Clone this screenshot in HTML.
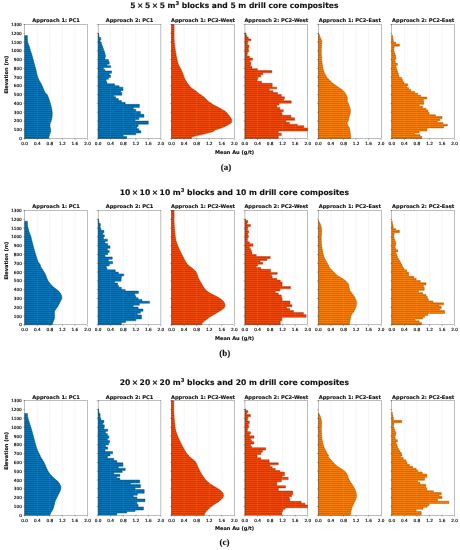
<!DOCTYPE html>
<html><head><meta charset="utf-8"><title>Figure</title>
<style>html,body{margin:0;padding:0;background:#fff}svg{display:block}text{font-family:"DejaVu Sans","Liberation Sans",sans-serif;fill:#111;text-rendering:geometricPrecision;stroke:#111;stroke-width:0.12px}.b{font-weight:bold}.t{font-size:4.2px;stroke-width:0.17px}.pt{font-size:5.12px;font-weight:bold;text-anchor:middle}.st{font-size:7.45px;font-weight:bold;text-anchor:middle}.cap{font-family:"Liberation Serif","DejaVu Serif",serif;font-weight:bold;font-size:9px;text-anchor:middle}</style></head><body>
<svg width="460" height="550" viewBox="0 0 460 550">
<rect width="460" height="550" fill="#fff"/>
<defs><pattern id="p0" width="4" height="2" patternUnits="userSpaceOnUse"><rect width="4" height="2" fill="#0674b5"/><rect y="1" width="4" height="1" fill="#075e9a"/></pattern><pattern id="p1" width="4" height="2" patternUnits="userSpaceOnUse"><rect width="4" height="2" fill="#ed490b"/><rect y="1" width="4" height="1" fill="#cd3906"/></pattern><pattern id="p2" width="4" height="2" patternUnits="userSpaceOnUse"><rect width="4" height="2" fill="#f47e09"/><rect y="1" width="4" height="1" fill="#d46905"/></pattern></defs>
<text class="st" style="text-anchor:start;font-size:7.6px" x="130.21" y="7.85">5<tspan dx="1.52">×</tspan><tspan dx="1.52">5</tspan><tspan dx="1.52">×</tspan><tspan dx="1.52">5</tspan> m<tspan font-size="5.32px" dy="-2.89">3</tspan><tspan dy="2.89"> blocks and 5 m drill core composites</tspan></text>
<line x1="37.26" y1="24.6" x2="37.26" y2="138.5" stroke="#e2e2e2" stroke-width="0.36"/><line x1="49.82" y1="24.6" x2="49.82" y2="138.5" stroke="#e2e2e2" stroke-width="0.36"/><line x1="62.38" y1="24.6" x2="62.38" y2="138.5" stroke="#e2e2e2" stroke-width="0.36"/><line x1="74.94" y1="24.6" x2="74.94" y2="138.5" stroke="#e2e2e2" stroke-width="0.36"/><path d="M24.7 35.6 L27.39 35.6 L27.39 39.78 L27.85 42.83 L29.37 46.63 L30.44 50.44 L31.96 55 L33.17 59.57 L34.39 64.13 L35.76 68.7 L36.67 73.26 L37.74 77.07 L38.96 79.81 L38.96 80 L40.78 83.04 L42.31 86.09 L43.52 89.13 L45.35 92.94 L47.18 94.46 L48.7 98.26 L50.22 102.83 L51.44 107.39 L52.2 111.96 L52.2 116.52 L51.44 120.33 L50.22 123.37 L49.91 126.42 L50.68 128.7 L50.68 131.74 L49.61 134.79 L48.85 137.07 L48.85 138.44 L48.85 138.5 L24.7 138.5Z" fill="url(#p0)" stroke="#054574" stroke-width="0.45" stroke-linejoin="round"/><line x1="37.26" y1="24.6" x2="37.26" y2="138.5" stroke="#ffffff" stroke-opacity="0.18" stroke-width="0.4"/><line x1="49.82" y1="24.6" x2="49.82" y2="138.5" stroke="#ffffff" stroke-opacity="0.18" stroke-width="0.4"/><line x1="62.38" y1="24.6" x2="62.38" y2="138.5" stroke="#ffffff" stroke-opacity="0.18" stroke-width="0.4"/><line x1="74.94" y1="24.6" x2="74.94" y2="138.5" stroke="#ffffff" stroke-opacity="0.18" stroke-width="0.4"/><rect x="24.7" y="24.6" width="62.8" height="113.9" fill="none" stroke="#2a2a2a" stroke-width="0.31"/><path d="M24.7 138.5h-1.4M24.7 129.74h-1.4M24.7 120.98h-1.4M24.7 112.22h-1.4M24.7 103.45h-1.4M24.7 94.69h-1.4M24.7 85.93h-1.4M24.7 77.17h-1.4M24.7 68.41h-1.4M24.7 59.65h-1.4M24.7 50.88h-1.4M24.7 42.12h-1.4M24.7 33.36h-1.4M24.7 24.6h-1.4M24.7 138.5v1.4M37.26 138.5v1.4M49.82 138.5v1.4M62.38 138.5v1.4M74.94 138.5v1.4M87.5 138.5v1.4" stroke="#222" stroke-width="0.34" fill="none"/>
<text class="pt" x="56.1" y="22.3">Approach 1: PC1</text><text class="t" text-anchor="middle" x="24.7" y="145">0.0</text><text class="t" text-anchor="middle" x="37.26" y="145">0.4</text><text class="t" text-anchor="middle" x="49.82" y="145">0.8</text><text class="t" text-anchor="middle" x="62.38" y="145">1.2</text><text class="t" text-anchor="middle" x="74.94" y="145">1.6</text><text class="t" text-anchor="middle" x="87.5" y="145">2.0</text><text class="t" text-anchor="end" x="21.8" y="140">0</text><text class="t" text-anchor="end" x="21.8" y="131.24">100</text><text class="t" text-anchor="end" x="21.8" y="122.48">200</text><text class="t" text-anchor="end" x="21.8" y="113.72">300</text><text class="t" text-anchor="end" x="21.8" y="104.95">400</text><text class="t" text-anchor="end" x="21.8" y="96.19">500</text><text class="t" text-anchor="end" x="21.8" y="87.43">600</text><text class="t" text-anchor="end" x="21.8" y="78.67">700</text><text class="t" text-anchor="end" x="21.8" y="69.91">800</text><text class="t" text-anchor="end" x="21.8" y="61.15">900</text><text class="t" text-anchor="end" x="21.8" y="52.38">1000</text><text class="t" text-anchor="end" x="21.8" y="43.62">1100</text><text class="t" text-anchor="end" x="21.8" y="34.86">1200</text><text class="t" text-anchor="end" x="21.8" y="26.1">1300</text><text class="b" font-size="5.05px" text-anchor="middle" transform="translate(7.6 74.8) rotate(-90)">Elevation (m)</text>
<line x1="110.68" y1="24.6" x2="110.68" y2="138.5" stroke="#e2e2e2" stroke-width="0.36"/><line x1="123.24" y1="24.6" x2="123.24" y2="138.5" stroke="#e2e2e2" stroke-width="0.36"/><line x1="135.8" y1="24.6" x2="135.8" y2="138.5" stroke="#e2e2e2" stroke-width="0.36"/><line x1="148.36" y1="24.6" x2="148.36" y2="138.5" stroke="#e2e2e2" stroke-width="0.36"/><path d="M98.12 33.24 L98.57 33.24 L98.57 35.22 L99.02 35.22 L99.02 37.5 L100.85 37.5 L100.85 39.78 L100.09 39.78 L100.09 42.07 L101.3 42.07 L101.3 44.35 L101.91 44.35 L101.91 46.18 L102.83 46.18 L102.83 48.46 L103.44 48.46 L103.44 50.74 L104.35 50.74 L104.35 52.72 L104.96 52.72 L104.96 55 L105.41 55 L105.41 57.29 L104.96 57.29 L104.96 59.57 L108.46 59.57 L108.46 61.85 L109.22 61.85 L109.22 64.13 L106.94 64.13 L106.94 65.66 L110.74 65.66 L110.74 67.48 L103.44 67.48 L103.44 69.46 L104.96 69.46 L104.96 70.98 L111.5 70.98 L111.5 73.26 L109.22 73.26 L109.22 75.09 L110.44 75.09 L110.44 77.53 L108.46 77.53 L108.46 79.35 L106.17 79.35 L106.17 79.96 L106.17 80 L106.17 81.83 L106.94 81.83 L106.94 83.8 L114.54 83.8 L114.54 85.63 L119.11 85.63 L119.11 87.15 L122.91 87.15 L122.91 90.65 L120.63 90.65 L120.63 92.48 L121.85 92.48 L121.85 95.22 L113.78 95.22 L113.78 96.74 L115.76 96.74 L115.76 98.57 L118.35 98.57 L118.35 100.54 L121.39 100.54 L121.39 102.37 L125.2 102.37 L125.2 104.35 L139.35 104.35 L139.35 107.39 L133.26 107.39 L133.26 109.22 L135.85 109.22 L135.85 111.5 L140.42 111.5 L140.42 114.24 L143.92 114.24 L143.92 117.29 L138.89 117.29 L138.89 119.57 L135.09 119.57 L135.09 121.09 L148.33 121.09 L148.33 124.13 L138.13 124.13 L138.13 126.42 L136.92 126.42 L136.92 128.7 L138.89 128.7 L138.89 130.68 L140.87 130.68 L140.87 132.96 L135.85 132.96 L135.85 134.79 L123.22 134.79 L123.22 136.61 L126.72 136.61 L126.72 138.44 L98.12 138.44Z" fill="url(#p0)" stroke="#054574" stroke-width="0.45" stroke-linejoin="round"/><line x1="110.68" y1="24.6" x2="110.68" y2="138.5" stroke="#ffffff" stroke-opacity="0.18" stroke-width="0.4"/><line x1="123.24" y1="24.6" x2="123.24" y2="138.5" stroke="#ffffff" stroke-opacity="0.18" stroke-width="0.4"/><line x1="135.8" y1="24.6" x2="135.8" y2="138.5" stroke="#ffffff" stroke-opacity="0.18" stroke-width="0.4"/><line x1="148.36" y1="24.6" x2="148.36" y2="138.5" stroke="#ffffff" stroke-opacity="0.18" stroke-width="0.4"/><rect x="98.12" y="24.6" width="62.8" height="113.9" fill="none" stroke="#2a2a2a" stroke-width="0.31"/><path d="M98.12 138.5h-1.4M98.12 129.74h-1.4M98.12 120.98h-1.4M98.12 112.22h-1.4M98.12 103.45h-1.4M98.12 94.69h-1.4M98.12 85.93h-1.4M98.12 77.17h-1.4M98.12 68.41h-1.4M98.12 59.65h-1.4M98.12 50.88h-1.4M98.12 42.12h-1.4M98.12 33.36h-1.4M98.12 24.6h-1.4M98.12 138.5v1.4M110.68 138.5v1.4M123.24 138.5v1.4M135.8 138.5v1.4M148.36 138.5v1.4M160.92 138.5v1.4" stroke="#222" stroke-width="0.34" fill="none"/>
<text class="pt" x="129.52" y="22.3">Approach 2: PC1</text><text class="t" text-anchor="middle" x="98.12" y="145">0.0</text><text class="t" text-anchor="middle" x="110.68" y="145">0.4</text><text class="t" text-anchor="middle" x="123.24" y="145">0.8</text><text class="t" text-anchor="middle" x="135.8" y="145">1.2</text><text class="t" text-anchor="middle" x="148.36" y="145">1.6</text><text class="t" text-anchor="middle" x="160.92" y="145">2.0</text>
<line x1="184.1" y1="24.6" x2="184.1" y2="138.5" stroke="#e2e2e2" stroke-width="0.36"/><line x1="196.66" y1="24.6" x2="196.66" y2="138.5" stroke="#e2e2e2" stroke-width="0.36"/><line x1="209.22" y1="24.6" x2="209.22" y2="138.5" stroke="#e2e2e2" stroke-width="0.36"/><line x1="221.78" y1="24.6" x2="221.78" y2="138.5" stroke="#e2e2e2" stroke-width="0.36"/><path d="M171.54 24.6 L174.09 24.6 L174.09 38.26 L174.39 42.83 L174.85 47.39 L175.61 51.96 L176.37 56.52 L177.13 59.87 L177.13 60 L178.35 64.57 L180.94 69.13 L182.91 73.7 L184.44 78.26 L187.02 82.83 L190.83 87.39 L194.18 89.98 L194.61 90 L198.52 93.13 L204 97.04 L207.91 100.96 L213.39 104.87 L219.65 108 L225.13 111.13 L227.48 113.48 L229.83 116.61 L231.86 119.74 L231.39 122.87 L227.48 125.22 L222.78 127.56 L214.96 129.91 L213.39 131.48 L207.91 133.04 L201.65 134.61 L196.17 135.86 L191.48 136.96 L191.48 138.5 L191.48 138.5 L171.54 138.5Z" fill="url(#p1)" stroke="#a52a04" stroke-width="0.45" stroke-linejoin="round"/><line x1="184.1" y1="24.6" x2="184.1" y2="138.5" stroke="#ffffff" stroke-opacity="0.18" stroke-width="0.4"/><line x1="196.66" y1="24.6" x2="196.66" y2="138.5" stroke="#ffffff" stroke-opacity="0.18" stroke-width="0.4"/><line x1="209.22" y1="24.6" x2="209.22" y2="138.5" stroke="#ffffff" stroke-opacity="0.18" stroke-width="0.4"/><line x1="221.78" y1="24.6" x2="221.78" y2="138.5" stroke="#ffffff" stroke-opacity="0.18" stroke-width="0.4"/><rect x="171.54" y="24.6" width="62.8" height="113.9" fill="none" stroke="#2a2a2a" stroke-width="0.31"/><path d="M171.54 138.5h-1.4M171.54 129.74h-1.4M171.54 120.98h-1.4M171.54 112.22h-1.4M171.54 103.45h-1.4M171.54 94.69h-1.4M171.54 85.93h-1.4M171.54 77.17h-1.4M171.54 68.41h-1.4M171.54 59.65h-1.4M171.54 50.88h-1.4M171.54 42.12h-1.4M171.54 33.36h-1.4M171.54 24.6h-1.4M171.54 138.5v1.4M184.1 138.5v1.4M196.66 138.5v1.4M209.22 138.5v1.4M221.78 138.5v1.4M234.34 138.5v1.4" stroke="#222" stroke-width="0.34" fill="none"/>
<text class="pt" x="202.94" y="22.3">Approach 1: PC2-West</text><text class="t" text-anchor="middle" x="171.54" y="145">0.0</text><text class="t" text-anchor="middle" x="184.1" y="145">0.4</text><text class="t" text-anchor="middle" x="196.66" y="145">0.8</text><text class="t" text-anchor="middle" x="209.22" y="145">1.2</text><text class="t" text-anchor="middle" x="221.78" y="145">1.6</text><text class="t" text-anchor="middle" x="234.34" y="145">2.0</text>
<line x1="257.52" y1="24.6" x2="257.52" y2="138.5" stroke="#e2e2e2" stroke-width="0.36"/><line x1="270.08" y1="24.6" x2="270.08" y2="138.5" stroke="#e2e2e2" stroke-width="0.36"/><line x1="282.64" y1="24.6" x2="282.64" y2="138.5" stroke="#e2e2e2" stroke-width="0.36"/><line x1="295.2" y1="24.6" x2="295.2" y2="138.5" stroke="#e2e2e2" stroke-width="0.36"/><path d="M244.96 32.94 L246.02 32.94 L246.02 35.22 L246.78 35.22 L246.78 37.04 L248.3 37.04 L248.3 39.02 L250.89 39.02 L250.89 40.85 L247.85 40.85 L247.85 42.83 L247.39 42.83 L247.39 45.11 L248.91 45.11 L248.91 47.39 L248.3 47.39 L248.3 49.68 L248.61 49.68 L248.61 51.96 L247.39 51.96 L247.39 54.24 L247.09 54.24 L247.09 56.07 L249.37 56.07 L249.37 58.05 L252.41 58.05 L252.41 60.33 L249.83 60.33 L249.83 62.15 L250.89 62.15 L250.89 64.13 L250.44 64.13 L250.44 66.42 L251.96 66.42 L251.96 68.7 L257.44 68.7 L257.44 70.53 L271.89 70.53 L271.89 72.81 L262.76 72.81 L262.76 74.79 L260.48 74.79 L260.48 77.07 L257.74 77.07 L257.74 79.35 L256.98 79.35 L256.98 79.96 L256.98 80 L256.98 81.22 L261.54 81.22 L261.54 83.35 L272.2 83.35 L272.2 87.15 L276.76 87.15 L276.76 88.83 L269.15 88.83 L269.15 90.65 L272.96 90.65 L272.96 92.48 L277.52 92.48 L277.52 94.46 L281.33 94.46 L281.33 96.74 L284.37 96.74 L284.37 99.02 L283.61 99.02 L283.61 100.85 L291.22 100.85 L291.22 103.13 L279.05 103.13 L279.05 105.11 L276.76 105.11 L276.76 107.39 L279.81 107.39 L279.81 109.68 L283.31 109.68 L283.31 111.65 L281.33 111.65 L281.33 113.48 L282.09 113.48 L282.09 115.31 L290.92 115.31 L290.92 117.74 L294.57 117.74 L294.57 120.33 L285.89 120.33 L285.89 122.15 L289.39 122.15 L289.39 124.13 L297.31 124.13 L297.31 125.66 L303.7 125.66 L303.7 127.94 L307.35 127.94 L307.35 130.98 L278.29 130.98 L278.29 133.26 L281.33 133.26 L281.33 135.55 L278.29 135.55 L278.29 138.44 L244.96 138.44Z" fill="url(#p1)" stroke="#a52a04" stroke-width="0.45" stroke-linejoin="round"/><line x1="257.52" y1="24.6" x2="257.52" y2="138.5" stroke="#ffffff" stroke-opacity="0.18" stroke-width="0.4"/><line x1="270.08" y1="24.6" x2="270.08" y2="138.5" stroke="#ffffff" stroke-opacity="0.18" stroke-width="0.4"/><line x1="282.64" y1="24.6" x2="282.64" y2="138.5" stroke="#ffffff" stroke-opacity="0.18" stroke-width="0.4"/><line x1="295.2" y1="24.6" x2="295.2" y2="138.5" stroke="#ffffff" stroke-opacity="0.18" stroke-width="0.4"/><rect x="244.96" y="24.6" width="62.8" height="113.9" fill="none" stroke="#2a2a2a" stroke-width="0.31"/><path d="M244.96 138.5h-1.4M244.96 129.74h-1.4M244.96 120.98h-1.4M244.96 112.22h-1.4M244.96 103.45h-1.4M244.96 94.69h-1.4M244.96 85.93h-1.4M244.96 77.17h-1.4M244.96 68.41h-1.4M244.96 59.65h-1.4M244.96 50.88h-1.4M244.96 42.12h-1.4M244.96 33.36h-1.4M244.96 24.6h-1.4M244.96 138.5v1.4M257.52 138.5v1.4M270.08 138.5v1.4M282.64 138.5v1.4M295.2 138.5v1.4M307.76 138.5v1.4" stroke="#222" stroke-width="0.34" fill="none"/>
<text class="pt" x="276.36" y="22.3">Approach 2: PC2-West</text><text class="t" text-anchor="middle" x="244.96" y="145">0.0</text><text class="t" text-anchor="middle" x="257.52" y="145">0.4</text><text class="t" text-anchor="middle" x="270.08" y="145">0.8</text><text class="t" text-anchor="middle" x="282.64" y="145">1.2</text><text class="t" text-anchor="middle" x="295.2" y="145">1.6</text><text class="t" text-anchor="middle" x="307.76" y="145">2.0</text>
<line x1="330.94" y1="24.6" x2="330.94" y2="138.5" stroke="#e2e2e2" stroke-width="0.36"/><line x1="343.5" y1="24.6" x2="343.5" y2="138.5" stroke="#e2e2e2" stroke-width="0.36"/><line x1="356.06" y1="24.6" x2="356.06" y2="138.5" stroke="#e2e2e2" stroke-width="0.36"/><line x1="368.62" y1="24.6" x2="368.62" y2="138.5" stroke="#e2e2e2" stroke-width="0.36"/><path d="M318.38 33.39 L318.87 33.39 L319.78 35.98 L320.85 39.02 L321.91 40.54 L321.61 44.35 L321.3 48.91 L321.3 53.48 L321.61 58.05 L321.61 60 L322.37 64.57 L323.13 69.13 L324.65 73.7 L326.94 77.5 L329.98 80.54 L333.02 83.59 L337.59 86.63 L342.15 89.68 L344.44 91.96 L346.26 95 L347.48 98.05 L347.18 101.09 L348.7 104.13 L349.76 107.18 L350.52 110.22 L350.22 113.26 L350.31 113.48 L349.22 116.61 L348.43 120.52 L347.18 122.87 L347.65 125.22 L349.22 127.56 L350 130.69 L350.31 133.83 L350.78 136.96 L350.78 138.5 L350.78 138.5 L318.38 138.5Z" fill="url(#p2)" stroke="#ab5204" stroke-width="0.45" stroke-linejoin="round"/><line x1="330.94" y1="24.6" x2="330.94" y2="138.5" stroke="#ffffff" stroke-opacity="0.18" stroke-width="0.4"/><line x1="343.5" y1="24.6" x2="343.5" y2="138.5" stroke="#ffffff" stroke-opacity="0.18" stroke-width="0.4"/><line x1="356.06" y1="24.6" x2="356.06" y2="138.5" stroke="#ffffff" stroke-opacity="0.18" stroke-width="0.4"/><line x1="368.62" y1="24.6" x2="368.62" y2="138.5" stroke="#ffffff" stroke-opacity="0.18" stroke-width="0.4"/><rect x="318.38" y="24.6" width="62.8" height="113.9" fill="none" stroke="#2a2a2a" stroke-width="0.31"/><path d="M318.38 138.5h-1.4M318.38 129.74h-1.4M318.38 120.98h-1.4M318.38 112.22h-1.4M318.38 103.45h-1.4M318.38 94.69h-1.4M318.38 85.93h-1.4M318.38 77.17h-1.4M318.38 68.41h-1.4M318.38 59.65h-1.4M318.38 50.88h-1.4M318.38 42.12h-1.4M318.38 33.36h-1.4M318.38 24.6h-1.4M318.38 138.5v1.4M330.94 138.5v1.4M343.5 138.5v1.4M356.06 138.5v1.4M368.62 138.5v1.4M381.18 138.5v1.4" stroke="#222" stroke-width="0.34" fill="none"/>
<text class="pt" x="349.78" y="22.3">Approach 1: PC2-East</text><text class="t" text-anchor="middle" x="318.38" y="145">0.0</text><text class="t" text-anchor="middle" x="330.94" y="145">0.4</text><text class="t" text-anchor="middle" x="343.5" y="145">0.8</text><text class="t" text-anchor="middle" x="356.06" y="145">1.2</text><text class="t" text-anchor="middle" x="368.62" y="145">1.6</text><text class="t" text-anchor="middle" x="381.18" y="145">2.0</text>
<line x1="404.36" y1="24.6" x2="404.36" y2="138.5" stroke="#e2e2e2" stroke-width="0.36"/><line x1="416.92" y1="24.6" x2="416.92" y2="138.5" stroke="#e2e2e2" stroke-width="0.36"/><line x1="429.48" y1="24.6" x2="429.48" y2="138.5" stroke="#e2e2e2" stroke-width="0.36"/><line x1="442.04" y1="24.6" x2="442.04" y2="138.5" stroke="#e2e2e2" stroke-width="0.36"/><path d="M391.8 35.22 L392.57 35.22 L392.57 37.5 L392.87 37.5 L392.87 39.78 L393.33 39.78 L393.33 42.07 L395.61 42.07 L395.61 44.05 L399.41 44.05 L399.41 46.18 L394.09 46.18 L394.09 48.15 L393.78 48.15 L393.78 50.44 L394.09 50.44 L394.09 52.72 L394.85 52.72 L394.85 55 L395.61 55 L395.61 57.29 L395.91 57.29 L395.91 59.26 L394.85 59.26 L394.85 61.39 L395.3 61.39 L395.3 63.37 L397.44 63.37 L397.44 65.35 L395.91 65.35 L395.91 67.48 L396.37 67.48 L396.37 69.46 L397.13 69.46 L397.13 71.74 L397.89 71.74 L397.89 73.57 L398.35 73.57 L398.35 75.55 L398.96 75.55 L398.96 77.53 L401.7 77.53 L401.7 79.66 L402.91 79.66 L402.91 79.96 L402.46 80 L402.46 81.83 L403.98 81.83 L403.98 83.8 L407.78 83.8 L407.78 85.63 L406.57 85.63 L406.57 87.61 L408.54 87.61 L408.54 89.44 L410.83 89.44 L410.83 91.41 L414.63 91.41 L414.63 93.24 L417.68 93.24 L417.68 95.22 L420.72 95.22 L420.72 97.04 L426.81 97.04 L426.81 99.02 L423.31 99.02 L423.31 101.31 L423.76 101.31 L423.76 104.35 L419.2 104.35 L419.2 106.18 L422.7 106.18 L422.7 108.15 L426.05 108.15 L426.05 109.98 L427.87 109.98 L427.87 112.26 L429.09 112.26 L429.09 114.7 L435.48 114.7 L435.48 116.52 L442.03 116.52 L442.03 118.81 L439.74 118.81 L439.74 120.63 L437.46 120.63 L437.46 122.61 L443.09 122.61 L443.09 124.13 L447.35 124.13 L447.35 125.96 L443.55 125.96 L443.55 127.94 L426.81 127.94 L426.81 130.98 L419.2 130.98 L419.2 132.96 L414.63 132.96 L414.63 134.48 L419.96 134.48 L419.96 136.31 L421.78 136.31 L421.78 138.44 L391.8 138.44Z" fill="url(#p2)" stroke="#ab5204" stroke-width="0.45" stroke-linejoin="round"/><line x1="404.36" y1="24.6" x2="404.36" y2="138.5" stroke="#ffffff" stroke-opacity="0.18" stroke-width="0.4"/><line x1="416.92" y1="24.6" x2="416.92" y2="138.5" stroke="#ffffff" stroke-opacity="0.18" stroke-width="0.4"/><line x1="429.48" y1="24.6" x2="429.48" y2="138.5" stroke="#ffffff" stroke-opacity="0.18" stroke-width="0.4"/><line x1="442.04" y1="24.6" x2="442.04" y2="138.5" stroke="#ffffff" stroke-opacity="0.18" stroke-width="0.4"/><rect x="391.8" y="24.6" width="62.8" height="113.9" fill="none" stroke="#2a2a2a" stroke-width="0.31"/><path d="M391.8 138.5h-1.4M391.8 129.74h-1.4M391.8 120.98h-1.4M391.8 112.22h-1.4M391.8 103.45h-1.4M391.8 94.69h-1.4M391.8 85.93h-1.4M391.8 77.17h-1.4M391.8 68.41h-1.4M391.8 59.65h-1.4M391.8 50.88h-1.4M391.8 42.12h-1.4M391.8 33.36h-1.4M391.8 24.6h-1.4M391.8 138.5v1.4M404.36 138.5v1.4M416.92 138.5v1.4M429.48 138.5v1.4M442.04 138.5v1.4M454.6 138.5v1.4" stroke="#222" stroke-width="0.34" fill="none"/>
<text class="pt" x="423.2" y="22.3">Approach 2: PC2-East</text><text class="t" text-anchor="middle" x="391.8" y="145">0.0</text><text class="t" text-anchor="middle" x="404.36" y="145">0.4</text><text class="t" text-anchor="middle" x="416.92" y="145">0.8</text><text class="t" text-anchor="middle" x="429.48" y="145">1.2</text><text class="t" text-anchor="middle" x="442.04" y="145">1.6</text><text class="t" text-anchor="middle" x="454.6" y="145">2.0</text>
<text class="b" font-size="5.05px" text-anchor="middle" x="234.5" y="154.3">Mean Au (g/t)</text>
<text class="cap" x="226.1" y="169.8">(a)</text>
<text class="st" style="text-anchor:start;font-size:7.6px" x="119.63" y="194.55">10<tspan dx="1.52">×</tspan><tspan dx="1.52">10</tspan><tspan dx="1.52">×</tspan><tspan dx="1.52">10</tspan> m<tspan font-size="5.32px" dy="-2.89">3</tspan><tspan dy="2.89"> blocks and 10 m drill core composites</tspan></text>
<line x1="37.26" y1="210.6" x2="37.26" y2="324.8" stroke="#e2e2e2" stroke-width="0.36"/><line x1="49.82" y1="210.6" x2="49.82" y2="324.8" stroke="#e2e2e2" stroke-width="0.36"/><line x1="62.38" y1="210.6" x2="62.38" y2="324.8" stroke="#e2e2e2" stroke-width="0.36"/><line x1="74.94" y1="210.6" x2="74.94" y2="324.8" stroke="#e2e2e2" stroke-width="0.36"/><path d="M24.7 221.22 L27.39 221.22 L27.54 225.78 L28.3 228.83 L29.37 232.63 L30.89 236.44 L31.96 241 L33.17 245.57 L34.39 250.13 L35.76 254.7 L36.98 258.5 L38.04 261.55 L40.02 264.59 L40.78 265.96 L40.02 266 L42.31 269.04 L44.13 272.09 L45.81 275.13 L47.18 278.94 L48.39 281.22 L50.68 284.26 L53.72 287.31 L56.76 289.59 L59.35 291.87 L60.87 294.15 L61.79 296.44 L61.79 298.72 L60.57 301 L59.05 304.05 L57.52 307.09 L55.7 309.37 L54.48 311.66 L54.48 314.7 L54.48 318.5 L53.26 321.55 L52.2 324.74 L52.2 324.8 L24.7 324.8Z" fill="url(#p0)" stroke="#054574" stroke-width="0.45" stroke-linejoin="round"/><line x1="37.26" y1="210.6" x2="37.26" y2="324.8" stroke="#ffffff" stroke-opacity="0.18" stroke-width="0.4"/><line x1="49.82" y1="210.6" x2="49.82" y2="324.8" stroke="#ffffff" stroke-opacity="0.18" stroke-width="0.4"/><line x1="62.38" y1="210.6" x2="62.38" y2="324.8" stroke="#ffffff" stroke-opacity="0.18" stroke-width="0.4"/><line x1="74.94" y1="210.6" x2="74.94" y2="324.8" stroke="#ffffff" stroke-opacity="0.18" stroke-width="0.4"/><rect x="24.7" y="210.6" width="62.8" height="114.2" fill="none" stroke="#2a2a2a" stroke-width="0.31"/><path d="M24.7 324.8h-1.4M24.7 316.02h-1.4M24.7 307.23h-1.4M24.7 298.45h-1.4M24.7 289.66h-1.4M24.7 280.88h-1.4M24.7 272.09h-1.4M24.7 263.31h-1.4M24.7 254.52h-1.4M24.7 245.74h-1.4M24.7 236.95h-1.4M24.7 228.17h-1.4M24.7 219.38h-1.4M24.7 210.6h-1.4M24.7 324.8v1.4M37.26 324.8v1.4M49.82 324.8v1.4M62.38 324.8v1.4M74.94 324.8v1.4M87.5 324.8v1.4" stroke="#222" stroke-width="0.34" fill="none"/>
<text class="pt" x="56.1" y="208.3">Approach 1: PC1</text><text class="t" text-anchor="middle" x="24.7" y="331.3">0.0</text><text class="t" text-anchor="middle" x="37.26" y="331.3">0.4</text><text class="t" text-anchor="middle" x="49.82" y="331.3">0.8</text><text class="t" text-anchor="middle" x="62.38" y="331.3">1.2</text><text class="t" text-anchor="middle" x="74.94" y="331.3">1.6</text><text class="t" text-anchor="middle" x="87.5" y="331.3">2.0</text><text class="t" text-anchor="end" x="21.8" y="326.3">0</text><text class="t" text-anchor="end" x="21.8" y="317.52">100</text><text class="t" text-anchor="end" x="21.8" y="308.73">200</text><text class="t" text-anchor="end" x="21.8" y="299.95">300</text><text class="t" text-anchor="end" x="21.8" y="291.16">400</text><text class="t" text-anchor="end" x="21.8" y="282.38">500</text><text class="t" text-anchor="end" x="21.8" y="273.59">600</text><text class="t" text-anchor="end" x="21.8" y="264.81">700</text><text class="t" text-anchor="end" x="21.8" y="256.02">800</text><text class="t" text-anchor="end" x="21.8" y="247.24">900</text><text class="t" text-anchor="end" x="21.8" y="238.45">1000</text><text class="t" text-anchor="end" x="21.8" y="229.67">1100</text><text class="t" text-anchor="end" x="21.8" y="220.88">1200</text><text class="t" text-anchor="end" x="21.8" y="212.1">1300</text><text class="b" font-size="5.05px" text-anchor="middle" transform="translate(7.6 260.8) rotate(-90)">Elevation (m)</text>
<line x1="110.68" y1="210.6" x2="110.68" y2="324.8" stroke="#e2e2e2" stroke-width="0.36"/><line x1="123.24" y1="210.6" x2="123.24" y2="324.8" stroke="#e2e2e2" stroke-width="0.36"/><line x1="135.8" y1="210.6" x2="135.8" y2="324.8" stroke="#e2e2e2" stroke-width="0.36"/><line x1="148.36" y1="210.6" x2="148.36" y2="324.8" stroke="#e2e2e2" stroke-width="0.36"/><path d="M98.12 218.94 L98.57 218.94 L98.57 221.22 L99.02 221.22 L99.02 223.5 L100.39 223.5 L100.39 225.78 L100.09 225.78 L100.09 228.07 L100.85 228.07 L100.85 230.35 L103.89 230.35 L103.89 232.63 L102.83 232.63 L102.83 234.91 L104.35 234.91 L104.35 236.89 L103.44 236.89 L103.44 239.18 L107.39 239.18 L107.39 241.31 L104.96 241.31 L104.96 243.59 L107.7 243.59 L107.7 245.87 L109.98 245.87 L109.98 248.31 L107.39 248.31 L107.39 250.44 L109.22 250.44 L109.22 252.42 L107.7 252.42 L107.7 254.7 L104.96 254.7 L104.96 256.98 L112.26 256.98 L112.26 259.26 L108.46 259.26 L108.46 261.55 L112.57 261.55 L112.57 263.83 L109.22 263.83 L109.22 265.96 L106.17 266 L106.17 267.83 L106.94 267.83 L106.94 269.8 L115.31 269.8 L115.31 272.09 L118.35 272.09 L118.35 273.91 L123.68 273.91 L123.68 275.89 L121.39 275.89 L121.39 278.17 L121.09 278.17 L121.09 281.22 L114.54 281.22 L114.54 283.04 L117.59 283.04 L117.59 285.48 L118.65 285.48 L118.65 287.31 L121.39 287.31 L121.39 289.59 L125.2 289.59 L125.2 291.11 L138.44 291.11 L138.44 293.39 L134.79 293.39 L134.79 295.68 L135.85 295.68 L135.85 297.65 L138.13 297.65 L138.13 299.48 L141.94 299.48 L141.94 301.31 L149.55 301.31 L149.55 303.29 L139.35 303.29 L139.35 305.26 L133.26 305.26 L133.26 307.09 L138.13 307.09 L138.13 309.07 L143 309.07 L143 311.35 L140.42 311.35 L140.42 313.18 L137.37 313.18 L137.37 315 L141.48 315 L141.48 318.96 L135.85 318.96 L135.85 320.79 L125.65 320.79 L125.65 322.61 L121.39 322.61 L121.39 324.74 L98.12 324.74Z" fill="url(#p0)" stroke="#054574" stroke-width="0.45" stroke-linejoin="round"/><line x1="110.68" y1="210.6" x2="110.68" y2="324.8" stroke="#ffffff" stroke-opacity="0.18" stroke-width="0.4"/><line x1="123.24" y1="210.6" x2="123.24" y2="324.8" stroke="#ffffff" stroke-opacity="0.18" stroke-width="0.4"/><line x1="135.8" y1="210.6" x2="135.8" y2="324.8" stroke="#ffffff" stroke-opacity="0.18" stroke-width="0.4"/><line x1="148.36" y1="210.6" x2="148.36" y2="324.8" stroke="#ffffff" stroke-opacity="0.18" stroke-width="0.4"/><rect x="98.12" y="210.6" width="62.8" height="114.2" fill="none" stroke="#2a2a2a" stroke-width="0.31"/><path d="M98.12 324.8h-1.4M98.12 316.02h-1.4M98.12 307.23h-1.4M98.12 298.45h-1.4M98.12 289.66h-1.4M98.12 280.88h-1.4M98.12 272.09h-1.4M98.12 263.31h-1.4M98.12 254.52h-1.4M98.12 245.74h-1.4M98.12 236.95h-1.4M98.12 228.17h-1.4M98.12 219.38h-1.4M98.12 210.6h-1.4M98.12 324.8v1.4M110.68 324.8v1.4M123.24 324.8v1.4M135.8 324.8v1.4M148.36 324.8v1.4M160.92 324.8v1.4" stroke="#222" stroke-width="0.34" fill="none"/>
<text class="pt" x="129.52" y="208.3">Approach 2: PC1</text><text class="t" text-anchor="middle" x="98.12" y="331.3">0.0</text><text class="t" text-anchor="middle" x="110.68" y="331.3">0.4</text><text class="t" text-anchor="middle" x="123.24" y="331.3">0.8</text><text class="t" text-anchor="middle" x="135.8" y="331.3">1.2</text><text class="t" text-anchor="middle" x="148.36" y="331.3">1.6</text><text class="t" text-anchor="middle" x="160.92" y="331.3">2.0</text>
<line x1="184.1" y1="210.6" x2="184.1" y2="324.8" stroke="#e2e2e2" stroke-width="0.36"/><line x1="196.66" y1="210.6" x2="196.66" y2="324.8" stroke="#e2e2e2" stroke-width="0.36"/><line x1="209.22" y1="210.6" x2="209.22" y2="324.8" stroke="#e2e2e2" stroke-width="0.36"/><line x1="221.78" y1="210.6" x2="221.78" y2="324.8" stroke="#e2e2e2" stroke-width="0.36"/><path d="M171.54 210.6 L174.09 210.6 L174.09 221.22 L174.39 227.31 L174.85 231.87 L175.3 236.44 L175.91 240.24 L177.13 244.05 L178.65 247.85 L180.48 251.66 L182 254.7 L183.52 257.74 L185.04 260.79 L187.02 263.83 L189.15 265.96 L189.31 266 L192.35 268.28 L195.7 271.33 L197.22 274.37 L198.13 277.41 L199.65 280.46 L201.48 283.5 L203.31 286.54 L205.29 289.59 L207.87 291.87 L212.13 294.15 L216.7 296.44 L220.5 298.72 L223.09 301 L224.61 303.29 L225.07 305.57 L224.31 307.85 L221.26 310.13 L217.46 312.42 L213.66 314.7 L209.85 316.98 L206.81 319.26 L203.76 321.55 L201.78 323.83 L201.48 324.74 L201.48 324.8 L171.54 324.8Z" fill="url(#p1)" stroke="#a52a04" stroke-width="0.45" stroke-linejoin="round"/><line x1="184.1" y1="210.6" x2="184.1" y2="324.8" stroke="#ffffff" stroke-opacity="0.18" stroke-width="0.4"/><line x1="196.66" y1="210.6" x2="196.66" y2="324.8" stroke="#ffffff" stroke-opacity="0.18" stroke-width="0.4"/><line x1="209.22" y1="210.6" x2="209.22" y2="324.8" stroke="#ffffff" stroke-opacity="0.18" stroke-width="0.4"/><line x1="221.78" y1="210.6" x2="221.78" y2="324.8" stroke="#ffffff" stroke-opacity="0.18" stroke-width="0.4"/><rect x="171.54" y="210.6" width="62.8" height="114.2" fill="none" stroke="#2a2a2a" stroke-width="0.31"/><path d="M171.54 324.8h-1.4M171.54 316.02h-1.4M171.54 307.23h-1.4M171.54 298.45h-1.4M171.54 289.66h-1.4M171.54 280.88h-1.4M171.54 272.09h-1.4M171.54 263.31h-1.4M171.54 254.52h-1.4M171.54 245.74h-1.4M171.54 236.95h-1.4M171.54 228.17h-1.4M171.54 219.38h-1.4M171.54 210.6h-1.4M171.54 324.8v1.4M184.1 324.8v1.4M196.66 324.8v1.4M209.22 324.8v1.4M221.78 324.8v1.4M234.34 324.8v1.4" stroke="#222" stroke-width="0.34" fill="none"/>
<text class="pt" x="202.94" y="208.3">Approach 1: PC2-West</text><text class="t" text-anchor="middle" x="171.54" y="331.3">0.0</text><text class="t" text-anchor="middle" x="184.1" y="331.3">0.4</text><text class="t" text-anchor="middle" x="196.66" y="331.3">0.8</text><text class="t" text-anchor="middle" x="209.22" y="331.3">1.2</text><text class="t" text-anchor="middle" x="221.78" y="331.3">1.6</text><text class="t" text-anchor="middle" x="234.34" y="331.3">2.0</text>
<line x1="257.52" y1="210.6" x2="257.52" y2="324.8" stroke="#e2e2e2" stroke-width="0.36"/><line x1="270.08" y1="210.6" x2="270.08" y2="324.8" stroke="#e2e2e2" stroke-width="0.36"/><line x1="282.64" y1="210.6" x2="282.64" y2="324.8" stroke="#e2e2e2" stroke-width="0.36"/><line x1="295.2" y1="210.6" x2="295.2" y2="324.8" stroke="#e2e2e2" stroke-width="0.36"/><path d="M244.96 218.94 L245.57 218.94 L245.57 220.46 L247.85 220.46 L247.85 222.44 L247.09 222.44 L247.09 224.57 L250.44 224.57 L250.44 226.54 L247.85 226.54 L247.85 228.52 L247.39 228.52 L247.39 230.65 L248.61 230.65 L248.61 233.09 L247.85 233.09 L247.85 235.22 L248.3 235.22 L248.3 237.65 L247.39 237.65 L247.39 241.76 L249.37 241.76 L249.37 243.74 L252.87 243.74 L252.87 246.33 L249.37 246.33 L249.37 248.31 L250.44 248.31 L250.44 250.13 L251.35 250.13 L251.35 252.11 L251.96 252.11 L251.96 254.39 L256.22 254.39 L256.22 256.53 L270.22 256.53 L270.22 258.5 L266.87 258.5 L266.87 260.48 L260.02 260.48 L260.02 262.31 L262.61 262.31 L262.61 264.13 L257.74 264.13 L257.74 265.96 L256.22 266 L256.22 267.52 L260.78 267.52 L260.78 269.35 L270.68 269.35 L270.68 272.39 L277.22 272.39 L277.22 274.37 L271.44 274.37 L271.44 276.35 L272.2 276.35 L272.2 278.17 L276.76 278.17 L276.76 280 L280.26 280 L280.26 281.98 L282.09 281.98 L282.09 286.54 L290.46 286.54 L290.46 288.83 L279.81 288.83 L279.81 291.11 L275.24 291.11 L275.24 293.09 L278.29 293.09 L278.29 294.91 L281.33 294.91 L281.33 297.96 L282.09 297.96 L282.09 301 L290 301 L290 304.81 L291.98 304.81 L291.98 306.79 L286.66 306.79 L286.66 308.61 L289.7 308.61 L289.7 310.44 L293.5 310.44 L293.5 312.42 L303.4 312.42 L303.4 314.7 L306.13 314.7 L306.13 317.29 L281.79 317.29 L281.79 320.79 L280.26 320.79 L280.26 324.74 L244.96 324.74Z" fill="url(#p1)" stroke="#a52a04" stroke-width="0.45" stroke-linejoin="round"/><line x1="257.52" y1="210.6" x2="257.52" y2="324.8" stroke="#ffffff" stroke-opacity="0.18" stroke-width="0.4"/><line x1="270.08" y1="210.6" x2="270.08" y2="324.8" stroke="#ffffff" stroke-opacity="0.18" stroke-width="0.4"/><line x1="282.64" y1="210.6" x2="282.64" y2="324.8" stroke="#ffffff" stroke-opacity="0.18" stroke-width="0.4"/><line x1="295.2" y1="210.6" x2="295.2" y2="324.8" stroke="#ffffff" stroke-opacity="0.18" stroke-width="0.4"/><rect x="244.96" y="210.6" width="62.8" height="114.2" fill="none" stroke="#2a2a2a" stroke-width="0.31"/><path d="M244.96 324.8h-1.4M244.96 316.02h-1.4M244.96 307.23h-1.4M244.96 298.45h-1.4M244.96 289.66h-1.4M244.96 280.88h-1.4M244.96 272.09h-1.4M244.96 263.31h-1.4M244.96 254.52h-1.4M244.96 245.74h-1.4M244.96 236.95h-1.4M244.96 228.17h-1.4M244.96 219.38h-1.4M244.96 210.6h-1.4M244.96 324.8v1.4M257.52 324.8v1.4M270.08 324.8v1.4M282.64 324.8v1.4M295.2 324.8v1.4M307.76 324.8v1.4" stroke="#222" stroke-width="0.34" fill="none"/>
<text class="pt" x="276.36" y="208.3">Approach 2: PC2-West</text><text class="t" text-anchor="middle" x="244.96" y="331.3">0.0</text><text class="t" text-anchor="middle" x="257.52" y="331.3">0.4</text><text class="t" text-anchor="middle" x="270.08" y="331.3">0.8</text><text class="t" text-anchor="middle" x="282.64" y="331.3">1.2</text><text class="t" text-anchor="middle" x="295.2" y="331.3">1.6</text><text class="t" text-anchor="middle" x="307.76" y="331.3">2.0</text>
<line x1="330.94" y1="210.6" x2="330.94" y2="324.8" stroke="#e2e2e2" stroke-width="0.36"/><line x1="343.5" y1="210.6" x2="343.5" y2="324.8" stroke="#e2e2e2" stroke-width="0.36"/><line x1="356.06" y1="210.6" x2="356.06" y2="324.8" stroke="#e2e2e2" stroke-width="0.36"/><line x1="368.62" y1="210.6" x2="368.62" y2="324.8" stroke="#e2e2e2" stroke-width="0.36"/><path d="M318.38 220.46 L318.57 220.46 L319.78 222.74 L320.85 225.78 L321.61 228.83 L321.61 231.87 L321.3 236.44 L321.3 241 L321.61 245.57 L322.37 250.13 L323.13 253.94 L324.35 257.74 L325.87 260.79 L327.7 263.83 L328.91 265.96 L328.46 266 L329.98 268.28 L332.26 270.57 L334.54 272.85 L336.83 275.13 L340.63 277.41 L344.44 279.7 L346.72 281.98 L348.7 284.26 L349 287.31 L349.76 290.35 L352.05 293.39 L354.33 296.44 L355.85 299.48 L356.61 302.52 L356.31 305.57 L355.39 308.61 L353.87 311.66 L351.74 313.94 L350.83 316.22 L350.22 319.26 L349.76 322.31 L349.31 324.74 L349.31 324.8 L318.38 324.8Z" fill="url(#p2)" stroke="#ab5204" stroke-width="0.45" stroke-linejoin="round"/><line x1="330.94" y1="210.6" x2="330.94" y2="324.8" stroke="#ffffff" stroke-opacity="0.18" stroke-width="0.4"/><line x1="343.5" y1="210.6" x2="343.5" y2="324.8" stroke="#ffffff" stroke-opacity="0.18" stroke-width="0.4"/><line x1="356.06" y1="210.6" x2="356.06" y2="324.8" stroke="#ffffff" stroke-opacity="0.18" stroke-width="0.4"/><line x1="368.62" y1="210.6" x2="368.62" y2="324.8" stroke="#ffffff" stroke-opacity="0.18" stroke-width="0.4"/><rect x="318.38" y="210.6" width="62.8" height="114.2" fill="none" stroke="#2a2a2a" stroke-width="0.31"/><path d="M318.38 324.8h-1.4M318.38 316.02h-1.4M318.38 307.23h-1.4M318.38 298.45h-1.4M318.38 289.66h-1.4M318.38 280.88h-1.4M318.38 272.09h-1.4M318.38 263.31h-1.4M318.38 254.52h-1.4M318.38 245.74h-1.4M318.38 236.95h-1.4M318.38 228.17h-1.4M318.38 219.38h-1.4M318.38 210.6h-1.4M318.38 324.8v1.4M330.94 324.8v1.4M343.5 324.8v1.4M356.06 324.8v1.4M368.62 324.8v1.4M381.18 324.8v1.4" stroke="#222" stroke-width="0.34" fill="none"/>
<text class="pt" x="349.78" y="208.3">Approach 1: PC2-East</text><text class="t" text-anchor="middle" x="318.38" y="331.3">0.0</text><text class="t" text-anchor="middle" x="330.94" y="331.3">0.4</text><text class="t" text-anchor="middle" x="343.5" y="331.3">0.8</text><text class="t" text-anchor="middle" x="356.06" y="331.3">1.2</text><text class="t" text-anchor="middle" x="368.62" y="331.3">1.6</text><text class="t" text-anchor="middle" x="381.18" y="331.3">2.0</text>
<line x1="404.36" y1="210.6" x2="404.36" y2="324.8" stroke="#e2e2e2" stroke-width="0.36"/><line x1="416.92" y1="210.6" x2="416.92" y2="324.8" stroke="#e2e2e2" stroke-width="0.36"/><line x1="429.48" y1="210.6" x2="429.48" y2="324.8" stroke="#e2e2e2" stroke-width="0.36"/><line x1="442.04" y1="210.6" x2="442.04" y2="324.8" stroke="#e2e2e2" stroke-width="0.36"/><path d="M391.8 221.22 L392.26 221.22 L392.26 224.26 L392.87 224.26 L392.87 226.54 L393.33 226.54 L393.33 228.52 L395.61 228.52 L395.61 230.35 L399.41 230.35 L399.41 232.63 L394.09 232.63 L394.09 234.91 L393.78 234.91 L393.78 237.2 L394.09 237.2 L394.09 239.48 L394.85 239.48 L394.85 241.76 L395.91 241.76 L395.91 244.05 L395.61 244.05 L395.61 245.87 L394.85 245.87 L394.85 247.85 L395.61 247.85 L395.61 249.83 L397.89 249.83 L397.89 251.66 L395.91 251.66 L395.91 253.94 L396.83 253.94 L396.83 256.22 L397.44 256.22 L397.44 258.5 L398.65 258.5 L398.65 260.48 L399.87 260.48 L399.87 262.31 L400.94 262.31 L400.94 264.59 L402 264.59 L402 265.96 L402.46 266 L402.46 267.83 L403.98 267.83 L403.98 269.8 L406.57 269.8 L406.57 272.09 L408.54 272.09 L408.54 276.35 L413.87 276.35 L413.87 278.17 L416.15 278.17 L416.15 280.46 L420.26 280.46 L420.26 282.74 L426.05 282.74 L426.05 285.02 L423.31 285.02 L423.31 287.31 L424.22 287.31 L424.22 290.35 L418.44 290.35 L418.44 292.63 L422.7 292.63 L422.7 294.61 L426.05 294.61 L426.05 296.44 L427.26 296.44 L427.26 298.72 L428.33 298.72 L428.33 301 L432.89 301 L432.89 302.83 L443.55 302.83 L443.55 304.81 L438.98 304.81 L438.98 306.33 L441.26 306.33 L441.26 308.61 L439.74 308.61 L439.74 310.44 L444.61 310.44 L444.61 313.48 L427.87 313.48 L427.87 315.46 L424.52 315.46 L424.52 317.29 L422.7 317.29 L422.7 318.96 L415.09 318.96 L415.09 320.79 L419.2 320.79 L419.2 322.61 L421.48 322.61 L421.48 324.74 L391.8 324.74Z" fill="url(#p2)" stroke="#ab5204" stroke-width="0.45" stroke-linejoin="round"/><line x1="404.36" y1="210.6" x2="404.36" y2="324.8" stroke="#ffffff" stroke-opacity="0.18" stroke-width="0.4"/><line x1="416.92" y1="210.6" x2="416.92" y2="324.8" stroke="#ffffff" stroke-opacity="0.18" stroke-width="0.4"/><line x1="429.48" y1="210.6" x2="429.48" y2="324.8" stroke="#ffffff" stroke-opacity="0.18" stroke-width="0.4"/><line x1="442.04" y1="210.6" x2="442.04" y2="324.8" stroke="#ffffff" stroke-opacity="0.18" stroke-width="0.4"/><rect x="391.8" y="210.6" width="62.8" height="114.2" fill="none" stroke="#2a2a2a" stroke-width="0.31"/><path d="M391.8 324.8h-1.4M391.8 316.02h-1.4M391.8 307.23h-1.4M391.8 298.45h-1.4M391.8 289.66h-1.4M391.8 280.88h-1.4M391.8 272.09h-1.4M391.8 263.31h-1.4M391.8 254.52h-1.4M391.8 245.74h-1.4M391.8 236.95h-1.4M391.8 228.17h-1.4M391.8 219.38h-1.4M391.8 210.6h-1.4M391.8 324.8v1.4M404.36 324.8v1.4M416.92 324.8v1.4M429.48 324.8v1.4M442.04 324.8v1.4M454.6 324.8v1.4" stroke="#222" stroke-width="0.34" fill="none"/>
<text class="pt" x="423.2" y="208.3">Approach 2: PC2-East</text><text class="t" text-anchor="middle" x="391.8" y="331.3">0.0</text><text class="t" text-anchor="middle" x="404.36" y="331.3">0.4</text><text class="t" text-anchor="middle" x="416.92" y="331.3">0.8</text><text class="t" text-anchor="middle" x="429.48" y="331.3">1.2</text><text class="t" text-anchor="middle" x="442.04" y="331.3">1.6</text><text class="t" text-anchor="middle" x="454.6" y="331.3">2.0</text>
<text class="b" font-size="5.05px" text-anchor="middle" x="234.5" y="339.9">Mean Au (g/t)</text>
<text class="cap" x="224.8" y="356.1">(b)</text>
<text class="st" style="text-anchor:start;font-size:7.6px" x="119.63" y="384.5">20<tspan dx="1.52">×</tspan><tspan dx="1.52">20</tspan><tspan dx="1.52">×</tspan><tspan dx="1.52">20</tspan> m<tspan font-size="5.32px" dy="-2.89">3</tspan><tspan dy="2.89"> blocks and 20 m drill core composites</tspan></text>
<line x1="37.26" y1="400.8" x2="37.26" y2="515.2" stroke="#e2e2e2" stroke-width="0.36"/><line x1="49.82" y1="400.8" x2="49.82" y2="515.2" stroke="#e2e2e2" stroke-width="0.36"/><line x1="62.38" y1="400.8" x2="62.38" y2="515.2" stroke="#e2e2e2" stroke-width="0.36"/><line x1="74.94" y1="400.8" x2="74.94" y2="515.2" stroke="#e2e2e2" stroke-width="0.36"/><path d="M24.7 413.5 L27.39 413.5 L27.7 417.31 L28.91 421.11 L30.13 424.91 L31.35 428.72 L32.41 432.52 L33.48 436.33 L34.39 440.13 L35.46 443.94 L36.52 447.74 L37.74 450.79 L39.26 453.83 L40.33 455.96 L40.02 456 L42 459.04 L43.83 462.09 L45.35 465.13 L46.57 468.17 L48.09 471.22 L50.22 474.26 L52.96 477.31 L55.7 479.59 L58.29 481.87 L59.81 484.15 L60.87 486.44 L60.87 488.72 L59.81 491.76 L58.29 494.81 L56.76 497.85 L55.24 500.89 L54.48 503.94 L53.72 506.98 L52.65 510.03 L51.13 512.31 L49.91 514.9 L49.91 515.2 L24.7 515.2Z" fill="url(#p0)" stroke="#054574" stroke-width="0.45" stroke-linejoin="round"/><line x1="37.26" y1="400.8" x2="37.26" y2="515.2" stroke="#ffffff" stroke-opacity="0.18" stroke-width="0.4"/><line x1="49.82" y1="400.8" x2="49.82" y2="515.2" stroke="#ffffff" stroke-opacity="0.18" stroke-width="0.4"/><line x1="62.38" y1="400.8" x2="62.38" y2="515.2" stroke="#ffffff" stroke-opacity="0.18" stroke-width="0.4"/><line x1="74.94" y1="400.8" x2="74.94" y2="515.2" stroke="#ffffff" stroke-opacity="0.18" stroke-width="0.4"/><rect x="24.7" y="400.8" width="62.8" height="114.4" fill="none" stroke="#2a2a2a" stroke-width="0.31"/><path d="M24.7 515.2h-1.4M24.7 506.4h-1.4M24.7 497.6h-1.4M24.7 488.8h-1.4M24.7 480h-1.4M24.7 471.2h-1.4M24.7 462.4h-1.4M24.7 453.6h-1.4M24.7 444.8h-1.4M24.7 436h-1.4M24.7 427.2h-1.4M24.7 418.4h-1.4M24.7 409.6h-1.4M24.7 400.8h-1.4M24.7 515.2v1.4M37.26 515.2v1.4M49.82 515.2v1.4M62.38 515.2v1.4M74.94 515.2v1.4M87.5 515.2v1.4" stroke="#222" stroke-width="0.34" fill="none"/>
<text class="pt" x="56.1" y="398.5">Approach 1: PC1</text><text class="t" text-anchor="middle" x="24.7" y="521.7">0.0</text><text class="t" text-anchor="middle" x="37.26" y="521.7">0.4</text><text class="t" text-anchor="middle" x="49.82" y="521.7">0.8</text><text class="t" text-anchor="middle" x="62.38" y="521.7">1.2</text><text class="t" text-anchor="middle" x="74.94" y="521.7">1.6</text><text class="t" text-anchor="middle" x="87.5" y="521.7">2.0</text><text class="t" text-anchor="end" x="21.8" y="516.7">0</text><text class="t" text-anchor="end" x="21.8" y="507.9">100</text><text class="t" text-anchor="end" x="21.8" y="499.1">200</text><text class="t" text-anchor="end" x="21.8" y="490.3">300</text><text class="t" text-anchor="end" x="21.8" y="481.5">400</text><text class="t" text-anchor="end" x="21.8" y="472.7">500</text><text class="t" text-anchor="end" x="21.8" y="463.9">600</text><text class="t" text-anchor="end" x="21.8" y="455.1">700</text><text class="t" text-anchor="end" x="21.8" y="446.3">800</text><text class="t" text-anchor="end" x="21.8" y="437.5">900</text><text class="t" text-anchor="end" x="21.8" y="428.7">1000</text><text class="t" text-anchor="end" x="21.8" y="419.9">1100</text><text class="t" text-anchor="end" x="21.8" y="411.1">1200</text><text class="t" text-anchor="end" x="21.8" y="402.3">1300</text><text class="b" font-size="5.05px" text-anchor="middle" transform="translate(7.6 451) rotate(-90)">Elevation (m)</text>
<line x1="110.68" y1="400.8" x2="110.68" y2="515.2" stroke="#e2e2e2" stroke-width="0.36"/><line x1="123.24" y1="400.8" x2="123.24" y2="515.2" stroke="#e2e2e2" stroke-width="0.36"/><line x1="135.8" y1="400.8" x2="135.8" y2="515.2" stroke="#e2e2e2" stroke-width="0.36"/><line x1="148.36" y1="400.8" x2="148.36" y2="515.2" stroke="#e2e2e2" stroke-width="0.36"/><path d="M98.12 408.94 L98.57 408.94 L98.57 411.22 L99.02 411.22 L99.02 413.5 L100.09 413.5 L100.09 418.07 L100.85 418.07 L100.85 420.35 L103.89 420.35 L103.89 422.63 L102.83 422.63 L102.83 424.91 L104.35 424.91 L104.35 427.2 L103.89 427.2 L103.89 429.18 L107.7 429.18 L107.7 431.31 L105.41 431.31 L105.41 433.59 L107.39 433.59 L107.39 435.87 L108.91 435.87 L108.91 438.31 L107.39 438.31 L107.39 440.44 L109.52 440.44 L109.52 442.87 L108.46 442.87 L108.46 445 L105.41 445 L105.41 446.98 L107.7 446.98 L107.7 449.26 L104.96 449.26 L104.96 451.55 L112.57 451.55 L112.57 453.83 L109.98 453.83 L109.98 455.96 L107.39 456 L107.39 458.28 L113.78 458.28 L113.78 460.57 L116.83 460.57 L116.83 462.85 L122.91 462.85 L122.91 466.35 L118.35 466.35 L118.35 468.17 L125.2 468.17 L125.2 470.46 L122.15 470.46 L122.15 472.44 L113.78 472.44 L113.78 474.26 L119.87 474.26 L119.87 476.54 L116.52 476.54 L116.52 478.07 L119.87 478.07 L119.87 480.05 L139.66 480.05 L139.66 483.09 L130.52 483.09 L130.52 484.61 L140.42 484.61 L140.42 487.65 L135.09 487.65 L135.09 489.48 L144.22 489.48 L144.22 493.29 L137.37 493.29 L137.37 495.26 L133.26 495.26 L133.26 497.09 L136.92 497.09 L136.92 499.07 L144.98 499.07 L144.98 501.66 L136.92 501.66 L136.92 504.39 L138.13 504.39 L138.13 506.98 L143.46 506.98 L143.46 510.03 L135.09 510.03 L135.09 511.55 L126.72 511.55 L126.72 513.07 L116.83 513.07 L116.83 515.05 L98.12 515.05Z" fill="url(#p0)" stroke="#054574" stroke-width="0.45" stroke-linejoin="round"/><line x1="110.68" y1="400.8" x2="110.68" y2="515.2" stroke="#ffffff" stroke-opacity="0.18" stroke-width="0.4"/><line x1="123.24" y1="400.8" x2="123.24" y2="515.2" stroke="#ffffff" stroke-opacity="0.18" stroke-width="0.4"/><line x1="135.8" y1="400.8" x2="135.8" y2="515.2" stroke="#ffffff" stroke-opacity="0.18" stroke-width="0.4"/><line x1="148.36" y1="400.8" x2="148.36" y2="515.2" stroke="#ffffff" stroke-opacity="0.18" stroke-width="0.4"/><rect x="98.12" y="400.8" width="62.8" height="114.4" fill="none" stroke="#2a2a2a" stroke-width="0.31"/><path d="M98.12 515.2h-1.4M98.12 506.4h-1.4M98.12 497.6h-1.4M98.12 488.8h-1.4M98.12 480h-1.4M98.12 471.2h-1.4M98.12 462.4h-1.4M98.12 453.6h-1.4M98.12 444.8h-1.4M98.12 436h-1.4M98.12 427.2h-1.4M98.12 418.4h-1.4M98.12 409.6h-1.4M98.12 400.8h-1.4M98.12 515.2v1.4M110.68 515.2v1.4M123.24 515.2v1.4M135.8 515.2v1.4M148.36 515.2v1.4M160.92 515.2v1.4" stroke="#222" stroke-width="0.34" fill="none"/>
<text class="pt" x="129.52" y="398.5">Approach 2: PC1</text><text class="t" text-anchor="middle" x="98.12" y="521.7">0.0</text><text class="t" text-anchor="middle" x="110.68" y="521.7">0.4</text><text class="t" text-anchor="middle" x="123.24" y="521.7">0.8</text><text class="t" text-anchor="middle" x="135.8" y="521.7">1.2</text><text class="t" text-anchor="middle" x="148.36" y="521.7">1.6</text><text class="t" text-anchor="middle" x="160.92" y="521.7">2.0</text>
<line x1="184.1" y1="400.8" x2="184.1" y2="515.2" stroke="#e2e2e2" stroke-width="0.36"/><line x1="196.66" y1="400.8" x2="196.66" y2="515.2" stroke="#e2e2e2" stroke-width="0.36"/><line x1="209.22" y1="400.8" x2="209.22" y2="515.2" stroke="#e2e2e2" stroke-width="0.36"/><line x1="221.78" y1="400.8" x2="221.78" y2="515.2" stroke="#e2e2e2" stroke-width="0.36"/><path d="M171.54 400.8 L173.78 400.8 L173.78 411.22 L174.09 417.31 L174.54 421.87 L175 426.44 L175.61 430.24 L176.83 434.05 L178.35 437.85 L180.17 441.66 L181.7 444.7 L183.22 447.74 L185.04 450.79 L187.02 453.83 L189 455.96 L188.54 456 L191.59 458.28 L195.09 461.33 L196.91 464.37 L198.13 467.41 L199.65 470.46 L201.18 473.5 L203.31 476.54 L205.29 479.59 L207.57 481.87 L210.61 484.15 L214.42 486.44 L218.22 488.72 L221.26 491 L223.09 493.29 L223.55 495.57 L222.79 497.85 L220.5 500.13 L217.46 502.42 L213.66 504.7 L210.61 506.98 L208.33 509.26 L206.05 511.55 L204.52 513.83 L204.22 515.05 L204.22 515.2 L171.54 515.2Z" fill="url(#p1)" stroke="#a52a04" stroke-width="0.45" stroke-linejoin="round"/><line x1="184.1" y1="400.8" x2="184.1" y2="515.2" stroke="#ffffff" stroke-opacity="0.18" stroke-width="0.4"/><line x1="196.66" y1="400.8" x2="196.66" y2="515.2" stroke="#ffffff" stroke-opacity="0.18" stroke-width="0.4"/><line x1="209.22" y1="400.8" x2="209.22" y2="515.2" stroke="#ffffff" stroke-opacity="0.18" stroke-width="0.4"/><line x1="221.78" y1="400.8" x2="221.78" y2="515.2" stroke="#ffffff" stroke-opacity="0.18" stroke-width="0.4"/><rect x="171.54" y="400.8" width="62.8" height="114.4" fill="none" stroke="#2a2a2a" stroke-width="0.31"/><path d="M171.54 515.2h-1.4M171.54 506.4h-1.4M171.54 497.6h-1.4M171.54 488.8h-1.4M171.54 480h-1.4M171.54 471.2h-1.4M171.54 462.4h-1.4M171.54 453.6h-1.4M171.54 444.8h-1.4M171.54 436h-1.4M171.54 427.2h-1.4M171.54 418.4h-1.4M171.54 409.6h-1.4M171.54 400.8h-1.4M171.54 515.2v1.4M184.1 515.2v1.4M196.66 515.2v1.4M209.22 515.2v1.4M221.78 515.2v1.4M234.34 515.2v1.4" stroke="#222" stroke-width="0.34" fill="none"/>
<text class="pt" x="202.94" y="398.5">Approach 1: PC2-West</text><text class="t" text-anchor="middle" x="171.54" y="521.7">0.0</text><text class="t" text-anchor="middle" x="184.1" y="521.7">0.4</text><text class="t" text-anchor="middle" x="196.66" y="521.7">0.8</text><text class="t" text-anchor="middle" x="209.22" y="521.7">1.2</text><text class="t" text-anchor="middle" x="221.78" y="521.7">1.6</text><text class="t" text-anchor="middle" x="234.34" y="521.7">2.0</text>
<line x1="257.52" y1="400.8" x2="257.52" y2="515.2" stroke="#e2e2e2" stroke-width="0.36"/><line x1="270.08" y1="400.8" x2="270.08" y2="515.2" stroke="#e2e2e2" stroke-width="0.36"/><line x1="282.64" y1="400.8" x2="282.64" y2="515.2" stroke="#e2e2e2" stroke-width="0.36"/><line x1="295.2" y1="400.8" x2="295.2" y2="515.2" stroke="#e2e2e2" stroke-width="0.36"/><path d="M244.96 408.94 L245.57 408.94 L245.57 410.46 L247.85 410.46 L247.85 412.44 L246.78 412.44 L246.78 414.57 L250.44 414.57 L250.44 416.85 L247.85 416.85 L247.85 418.83 L247.39 418.83 L247.39 421.11 L249.37 421.11 L249.37 423.39 L248.3 423.39 L248.3 425.68 L248.61 425.68 L248.61 427.96 L247.39 427.96 L247.39 431.76 L250.44 431.76 L250.44 433.74 L249.37 433.74 L249.37 435.87 L253.94 435.87 L253.94 438.15 L250.44 438.15 L250.44 440.13 L251.65 440.13 L251.65 441.66 L253.94 441.66 L253.94 443.94 L250.44 443.94 L250.44 446.22 L251.65 446.22 L251.65 447.74 L265.65 447.74 L265.65 450.03 L262.31 450.03 L262.31 452.31 L260.78 452.31 L260.78 454.59 L256.98 454.59 L256.98 455.96 L256.98 456 L256.98 457.83 L260.78 457.83 L260.78 459.8 L269.15 459.8 L269.15 462.85 L278.29 462.85 L278.29 464.83 L269.91 464.83 L269.91 466.65 L272.2 466.65 L272.2 468.48 L275.24 468.48 L275.24 470.46 L279.81 470.46 L279.81 471.98 L284.37 471.98 L284.37 475.78 L282.09 475.78 L282.09 477.31 L288.18 477.31 L288.18 479.59 L281.33 479.59 L281.33 481.87 L276.76 481.87 L276.76 485.68 L285.44 485.68 L285.44 487.96 L278.29 487.96 L278.29 491 L292.74 491 L292.74 494.81 L291.53 494.81 L291.53 496.79 L288.94 496.79 L288.94 498.61 L289.7 498.61 L289.7 501.35 L301.11 501.35 L301.11 503.18 L304.92 503.18 L304.92 505 L307.35 505 L307.35 507.74 L285.13 507.74 L285.13 509.26 L282.85 509.26 L282.85 511.55 L281.79 511.55 L281.79 515.05 L244.96 515.05Z" fill="url(#p1)" stroke="#a52a04" stroke-width="0.45" stroke-linejoin="round"/><line x1="257.52" y1="400.8" x2="257.52" y2="515.2" stroke="#ffffff" stroke-opacity="0.18" stroke-width="0.4"/><line x1="270.08" y1="400.8" x2="270.08" y2="515.2" stroke="#ffffff" stroke-opacity="0.18" stroke-width="0.4"/><line x1="282.64" y1="400.8" x2="282.64" y2="515.2" stroke="#ffffff" stroke-opacity="0.18" stroke-width="0.4"/><line x1="295.2" y1="400.8" x2="295.2" y2="515.2" stroke="#ffffff" stroke-opacity="0.18" stroke-width="0.4"/><rect x="244.96" y="400.8" width="62.8" height="114.4" fill="none" stroke="#2a2a2a" stroke-width="0.31"/><path d="M244.96 515.2h-1.4M244.96 506.4h-1.4M244.96 497.6h-1.4M244.96 488.8h-1.4M244.96 480h-1.4M244.96 471.2h-1.4M244.96 462.4h-1.4M244.96 453.6h-1.4M244.96 444.8h-1.4M244.96 436h-1.4M244.96 427.2h-1.4M244.96 418.4h-1.4M244.96 409.6h-1.4M244.96 400.8h-1.4M244.96 515.2v1.4M257.52 515.2v1.4M270.08 515.2v1.4M282.64 515.2v1.4M295.2 515.2v1.4M307.76 515.2v1.4" stroke="#222" stroke-width="0.34" fill="none"/>
<text class="pt" x="276.36" y="398.5">Approach 2: PC2-West</text><text class="t" text-anchor="middle" x="244.96" y="521.7">0.0</text><text class="t" text-anchor="middle" x="257.52" y="521.7">0.4</text><text class="t" text-anchor="middle" x="270.08" y="521.7">0.8</text><text class="t" text-anchor="middle" x="282.64" y="521.7">1.2</text><text class="t" text-anchor="middle" x="295.2" y="521.7">1.6</text><text class="t" text-anchor="middle" x="307.76" y="521.7">2.0</text>
<line x1="330.94" y1="400.8" x2="330.94" y2="515.2" stroke="#e2e2e2" stroke-width="0.36"/><line x1="343.5" y1="400.8" x2="343.5" y2="515.2" stroke="#e2e2e2" stroke-width="0.36"/><line x1="356.06" y1="400.8" x2="356.06" y2="515.2" stroke="#e2e2e2" stroke-width="0.36"/><line x1="368.62" y1="400.8" x2="368.62" y2="515.2" stroke="#e2e2e2" stroke-width="0.36"/><path d="M318.38 413.04 L318.57 413.04 L319.78 415.02 L320.85 418.07 L321.61 421.11 L321.61 424.91 L321.3 429.48 L321.61 434.05 L321.91 438.61 L322.83 443.18 L323.89 446.98 L325.41 450.03 L326.94 453.07 L328.76 455.96 L327.7 456 L329.52 458.28 L331.5 460.57 L333.48 462.85 L336.07 465.13 L339.11 467.41 L342.91 469.7 L345.65 471.98 L347.48 475.02 L348.24 478.07 L349.76 481.11 L352.05 484.15 L353.87 487.2 L355.39 490.24 L356.31 493.29 L356.61 496.33 L355.85 499.37 L354.33 502.42 L352.81 505.46 L351.74 508.5 L350.83 511.55 L350.22 515.05 L350.22 515.2 L318.38 515.2Z" fill="url(#p2)" stroke="#ab5204" stroke-width="0.45" stroke-linejoin="round"/><line x1="330.94" y1="400.8" x2="330.94" y2="515.2" stroke="#ffffff" stroke-opacity="0.18" stroke-width="0.4"/><line x1="343.5" y1="400.8" x2="343.5" y2="515.2" stroke="#ffffff" stroke-opacity="0.18" stroke-width="0.4"/><line x1="356.06" y1="400.8" x2="356.06" y2="515.2" stroke="#ffffff" stroke-opacity="0.18" stroke-width="0.4"/><line x1="368.62" y1="400.8" x2="368.62" y2="515.2" stroke="#ffffff" stroke-opacity="0.18" stroke-width="0.4"/><rect x="318.38" y="400.8" width="62.8" height="114.4" fill="none" stroke="#2a2a2a" stroke-width="0.31"/><path d="M318.38 515.2h-1.4M318.38 506.4h-1.4M318.38 497.6h-1.4M318.38 488.8h-1.4M318.38 480h-1.4M318.38 471.2h-1.4M318.38 462.4h-1.4M318.38 453.6h-1.4M318.38 444.8h-1.4M318.38 436h-1.4M318.38 427.2h-1.4M318.38 418.4h-1.4M318.38 409.6h-1.4M318.38 400.8h-1.4M318.38 515.2v1.4M330.94 515.2v1.4M343.5 515.2v1.4M356.06 515.2v1.4M368.62 515.2v1.4M381.18 515.2v1.4" stroke="#222" stroke-width="0.34" fill="none"/>
<text class="pt" x="349.78" y="398.5">Approach 1: PC2-East</text><text class="t" text-anchor="middle" x="318.38" y="521.7">0.0</text><text class="t" text-anchor="middle" x="330.94" y="521.7">0.4</text><text class="t" text-anchor="middle" x="343.5" y="521.7">0.8</text><text class="t" text-anchor="middle" x="356.06" y="521.7">1.2</text><text class="t" text-anchor="middle" x="368.62" y="521.7">1.6</text><text class="t" text-anchor="middle" x="381.18" y="521.7">2.0</text>
<line x1="404.36" y1="400.8" x2="404.36" y2="515.2" stroke="#e2e2e2" stroke-width="0.36"/><line x1="416.92" y1="400.8" x2="416.92" y2="515.2" stroke="#e2e2e2" stroke-width="0.36"/><line x1="429.48" y1="400.8" x2="429.48" y2="515.2" stroke="#e2e2e2" stroke-width="0.36"/><line x1="442.04" y1="400.8" x2="442.04" y2="515.2" stroke="#e2e2e2" stroke-width="0.36"/><path d="M391.8 411.98 L392.26 411.98 L392.26 415.02 L392.87 415.02 L392.87 417.31 L393.33 417.31 L393.33 420.35 L401.7 420.35 L401.7 422.63 L393.78 422.63 L393.78 424.91 L393.33 424.91 L393.33 427.2 L394.09 427.2 L394.09 429.48 L394.85 429.48 L394.85 431.76 L395.91 431.76 L395.91 434.05 L395.61 434.05 L395.61 435.87 L394.85 435.87 L394.85 437.85 L395.3 437.85 L395.3 439.83 L397.44 439.83 L397.44 441.66 L395.91 441.66 L395.91 443.94 L396.83 443.94 L396.83 446.22 L397.44 446.22 L397.44 448.5 L398.65 448.5 L398.65 450.48 L399.87 450.48 L399.87 452.61 L401.39 452.61 L401.39 454.59 L402 454.59 L402 455.96 L400.48 456 L400.48 457.52 L403.22 457.52 L403.22 459.8 L405.96 459.8 L405.96 462.09 L407.02 462.09 L407.02 464.37 L409.31 464.37 L409.31 466.35 L412.65 466.35 L412.65 468.17 L416.15 468.17 L416.15 470 L417.68 470 L417.68 471.98 L422.24 471.98 L422.24 473.96 L426.81 473.96 L426.81 477.31 L424.52 477.31 L424.52 480.35 L417.68 480.35 L417.68 482.18 L419.96 482.18 L419.96 484.15 L425.74 484.15 L425.74 487.96 L426.81 487.96 L426.81 490.7 L433.35 490.7 L433.35 492.52 L441.26 492.52 L441.26 494.81 L438.98 494.81 L438.98 496.33 L442.03 496.33 L442.03 498.61 L437.46 498.61 L437.46 501.2 L448.87 501.2 L448.87 503.48 L429.09 503.48 L429.09 505.46 L427.26 505.46 L427.26 507.29 L423 507.29 L423 509.26 L416.15 509.26 L416.15 511.55 L421.18 511.55 L421.18 515.05 L391.8 515.05Z" fill="url(#p2)" stroke="#ab5204" stroke-width="0.45" stroke-linejoin="round"/><line x1="404.36" y1="400.8" x2="404.36" y2="515.2" stroke="#ffffff" stroke-opacity="0.18" stroke-width="0.4"/><line x1="416.92" y1="400.8" x2="416.92" y2="515.2" stroke="#ffffff" stroke-opacity="0.18" stroke-width="0.4"/><line x1="429.48" y1="400.8" x2="429.48" y2="515.2" stroke="#ffffff" stroke-opacity="0.18" stroke-width="0.4"/><line x1="442.04" y1="400.8" x2="442.04" y2="515.2" stroke="#ffffff" stroke-opacity="0.18" stroke-width="0.4"/><rect x="391.8" y="400.8" width="62.8" height="114.4" fill="none" stroke="#2a2a2a" stroke-width="0.31"/><path d="M391.8 515.2h-1.4M391.8 506.4h-1.4M391.8 497.6h-1.4M391.8 488.8h-1.4M391.8 480h-1.4M391.8 471.2h-1.4M391.8 462.4h-1.4M391.8 453.6h-1.4M391.8 444.8h-1.4M391.8 436h-1.4M391.8 427.2h-1.4M391.8 418.4h-1.4M391.8 409.6h-1.4M391.8 400.8h-1.4M391.8 515.2v1.4M404.36 515.2v1.4M416.92 515.2v1.4M429.48 515.2v1.4M442.04 515.2v1.4M454.6 515.2v1.4" stroke="#222" stroke-width="0.34" fill="none"/>
<text class="pt" x="423.2" y="398.5">Approach 2: PC2-East</text><text class="t" text-anchor="middle" x="391.8" y="521.7">0.0</text><text class="t" text-anchor="middle" x="404.36" y="521.7">0.4</text><text class="t" text-anchor="middle" x="416.92" y="521.7">0.8</text><text class="t" text-anchor="middle" x="429.48" y="521.7">1.2</text><text class="t" text-anchor="middle" x="442.04" y="521.7">1.6</text><text class="t" text-anchor="middle" x="454.6" y="521.7">2.0</text>
<text class="b" font-size="5.05px" text-anchor="middle" x="234.5" y="529.7">Mean Au (g/t)</text>
<text class="cap" x="224.4" y="545.4">(c)</text>
</svg>
</body></html>
